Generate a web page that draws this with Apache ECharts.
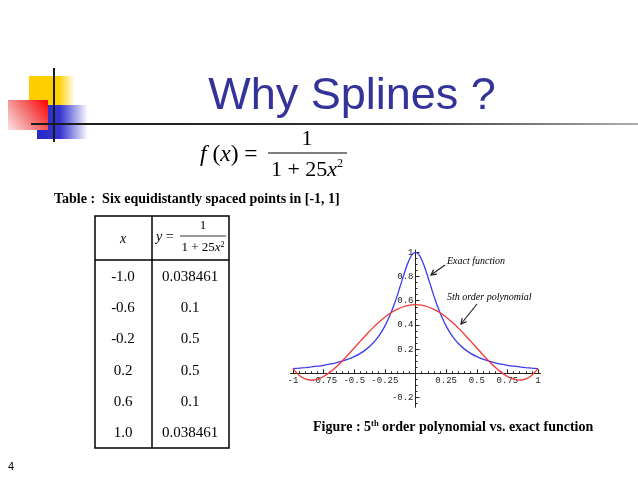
<!DOCTYPE html>
<html>
<head>
<meta charset="utf-8">
<script src="https://cdn.jsdelivr.net/npm/echarts@6/dist/echarts.min.js"></script>
<style>
html,body{margin:0;padding:0;background:#fff;}
#c{width:638px;height:478px;}
</style>
</head>
<body>
<div id="c"></div>
<script>
// ---- data ----
var xExact = [-1,-0.95,-0.9,-0.85,-0.8,-0.75,-0.7,-0.65,-0.6,-0.55,-0.5,-0.45,-0.4,-0.35,-0.3,-0.25,-0.2,-0.175,-0.15,-0.125,-0.1,-0.075,-0.05,-0.025,0,0.025,0.05,0.075,0.1,0.125,0.15,0.175,0.2,0.25,0.3,0.35,0.4,0.45,0.5,0.55,0.6,0.65,0.7,0.75,0.8,0.85,0.9,0.95,1];
var yExact = [0.0385,0.0424,0.0471,0.0525,0.0588,0.0664,0.0755,0.0865,0.1,0.117,0.138,0.165,0.2,0.246,0.308,0.39,0.5,0.566,0.64,0.719,0.8,0.877,0.941,0.985,1,0.985,0.941,0.877,0.8,0.719,0.64,0.566,0.5,0.39,0.308,0.246,0.2,0.165,0.138,0.117,0.1,0.0865,0.0755,0.0664,0.0588,0.0525,0.0471,0.0424,0.0385];
var xPoly = [-1,-0.95,-0.9,-0.85,-0.8,-0.75,-0.7,-0.65,-0.6,-0.55,-0.5,-0.45,-0.4,-0.35,-0.3,-0.25,-0.2,-0.15,-0.1,-0.05,0,0.05,0.1,0.15,0.2,0.25,0.3,0.35,0.4,0.45,0.5,0.55,0.6,0.65,0.7,0.75,0.8,0.85,0.9,0.95,1];
var yPoly = [0.0385,-0.0157,-0.046,-0.0558,-0.0481,-0.026,0.0078,0.0506,0.1,0.1537,0.2097,0.2661,0.3212,0.3733,0.4213,0.4638,0.5,0.529,0.5501,0.563,0.5673,0.563,0.5501,0.529,0.5,0.4638,0.4213,0.3733,0.3212,0.2661,0.2097,0.1537,0.1,0.0506,0.0078,-0.026,-0.0481,-0.0558,-0.046,-0.0157,0.0385];
var xTickLabels = [-1,-0.75,-0.5,-0.25,0.25,0.5,0.75,1];
var yTickLabels = [-0.2,0.2,0.4,0.6,0.8,1];
var xMinorTicks = [-1,-0.95,-0.9,-0.85,-0.8,-0.75,-0.7,-0.65,-0.6,-0.55,-0.5,-0.45,-0.4,-0.35,-0.3,-0.25,-0.2,-0.15,-0.1,-0.05,0.05,0.1,0.15,0.2,0.25,0.3,0.35,0.4,0.45,0.5,0.55,0.6,0.65,0.7,0.75,0.8,0.85,0.9,0.95,1];
var yMinorTicks = [-0.25,-0.2,-0.15,-0.1,-0.05,0.05,0.1,0.15,0.2,0.25,0.3,0.35,0.4,0.45,0.5,0.55,0.6,0.65,0.7,0.75,0.8,0.85,0.9,0.95,1];
var tableX = ['-1.0','-0.6','-0.2','0.2','0.6','1.0'];
var tableY = ['0.038461','0.1','0.5','0.5','0.1','0.038461'];
var titleText = 'Why Splines ?';
var tableCaption = 'Table :  Six equidistantly spaced points in [-1, 1]';
var pageNumber = '4';

function pairs(xs, ys){ return xs.map(function(x,i){ return [x, ys[i]]; }); }
function fmt(v){ return String(v); }

var serif = '"Liberation Serif", "Times New Roman", serif';
var sans = '"Liberation Sans", Arial, sans-serif';
var mono = '"Liberation Mono", "Courier New", monospace';

// plot geometry
var X_MIN = -1.02, X_MAX = 1.02, Y_MIN = -0.28, Y_MAX = 1.02;
var G = {left:290.5, top:249.9, width:250, height:157.3};
var xAxisOffset = -(0 - Y_MIN) / (Y_MAX - Y_MIN) * G.height;   // move x axis up to y = 0
var yAxisOffset = -(0 - X_MIN) / (X_MAX - X_MIN) * G.width;    // move y axis right to x = 0

function arrow(tail, tip, color){
  var dx = tail[0]-tip[0], dy = tail[1]-tip[1];
  var L = Math.sqrt(dx*dx+dy*dy); dx/=L; dy/=L;
  var a = 28*Math.PI/180, h = 6;
  var c = Math.cos(a), s = Math.sin(a);
  var p1 = [tip[0]+h*(dx*c - dy*s), tip[1]+h*(dx*s + dy*c)];
  var p2 = [tip[0]+h*(dx*c + dy*s), tip[1]+h*(-dx*s + dy*c)];
  return [
    {type:'line', z:50, shape:{x1:tail[0],y1:tail[1],x2:tip[0],y2:tip[1]}, style:{stroke:color,lineWidth:1.2}},
    {type:'polyline', z:50, shape:{points:[p1,tip,p2]}, style:{stroke:color,lineWidth:1.2,fill:null}}
  ];
}

var graphics = [];
// decorative squares
graphics.push({type:'rect', z:1, shape:{x:29,y:76,width:46,height:46}, style:{fill:{type:'linear',x:0,y:0,x2:1,y2:0,colorStops:[{offset:0,color:'#ffcc00'},{offset:0.65,color:'#ffd000'},{offset:1,color:'#ffffff'}]}}});
graphics.push({type:'rect', z:2, shape:{x:37,y:105,width:51,height:34}, style:{fill:{type:'linear',x:0,y:0,x2:1,y2:0,colorStops:[{offset:0,color:'#2828c8'},{offset:0.45,color:'#3535d0'},{offset:1,color:'#ffffff'}]}}});
graphics.push({type:'rect', z:3, shape:{x:8,y:100,width:40,height:30}, style:{fill:{type:'linear',x:0,y:1,x2:1,y2:0,colorStops:[{offset:0,color:'#fbe4e4'},{offset:0.55,color:'#f36a6a'},{offset:1,color:'#ff0000'}]}}});
graphics.push({type:'line', z:4, shape:{x1:54,y1:68,x2:54,y2:142}, style:{stroke:'#1a1a1a',lineWidth:2}});
graphics.push({type:'line', z:4, shape:{x1:31,y1:124,x2:638,y2:124}, style:{stroke:{type:'linear',x:0,y:0,x2:1,y2:0,colorStops:[{offset:0,color:'#1a1a1a'},{offset:0.6,color:'#333333'},{offset:1,color:'#b0b0b0'}]},lineWidth:2}});

// title
graphics.push({type:'text', x:352, y:97, style:{text:titleText, font:'45px ' + sans, fill:'#333399', textAlign:'center', textVerticalAlign:'middle'}});

// formula f(x) = 1/(1+25x^2)
graphics.push({type:'text', x:200, y:155, style:{text:'{i|f} ({i|x}) =', textAlign:'left', textVerticalAlign:'middle', font:'23.5px '+serif, fill:'#000', rich:{i:{fontStyle:'italic', fontSize:23.5, fontFamily:serif}}}});
graphics.push({type:'text', x:307, y:139, style:{text:'1', textAlign:'center', textVerticalAlign:'middle', font:'22px '+serif, fill:'#000'}});
graphics.push({type:'line', shape:{x1:268,y1:153,x2:347,y2:153}, style:{stroke:'#000',lineWidth:1}});
graphics.push({type:'text', x:307, y:170, style:{text:'1 + 25{i|x}{s|2}', textAlign:'center', textVerticalAlign:'middle', font:'22px '+serif, fill:'#000', rich:{i:{fontStyle:'italic',fontSize:22,fontFamily:serif,lineHeight:24}, s:{fontSize:12,fontFamily:serif,verticalAlign:'top',lineHeight:24}}}});

// table caption
graphics.push({type:'text', x:54, y:199, style:{text:tableCaption, textAlign:'left', textVerticalAlign:'middle', font:'bold 14px '+serif, fill:'#000'}});

// table
graphics.push({type:'rect', shape:{x:95,y:216,width:134,height:232}, style:{fill:null, stroke:'#000', lineWidth:1.5}});
graphics.push({type:'line', shape:{x1:152,y1:216,x2:152,y2:448}, style:{stroke:'#000',lineWidth:1.5}});
graphics.push({type:'line', shape:{x1:95,y1:260,x2:229,y2:260}, style:{stroke:'#000',lineWidth:1.5}});
graphics.push({type:'text', x:123, y:239, style:{text:'x', textAlign:'center', textVerticalAlign:'middle', font:'italic 14px '+serif, fill:'#000'}});
graphics.push({type:'text', x:156, y:237, style:{text:'{i|y} =', textAlign:'left', textVerticalAlign:'middle', font:'14px '+serif, fill:'#000', rich:{i:{fontStyle:'italic',fontSize:14,fontFamily:serif}}}});
graphics.push({type:'text', x:203, y:226, style:{text:'1', textAlign:'center', textVerticalAlign:'middle', font:'13px '+serif, fill:'#000'}});
graphics.push({type:'line', shape:{x1:180,y1:236,x2:226,y2:236}, style:{stroke:'#000',lineWidth:0.8}});
graphics.push({type:'text', x:203, y:248, style:{text:'1 + 25{i|x}{s|2}', textAlign:'center', textVerticalAlign:'middle', font:'13px '+serif, fill:'#000', rich:{i:{fontStyle:'italic',fontSize:13,fontFamily:serif,lineHeight:15}, s:{fontSize:8,fontFamily:serif,verticalAlign:'top',lineHeight:15}}}});
tableX.forEach(function(v,i){
  var yy = 277 + i*31.2;
  graphics.push({type:'text', x:123, y:yy, style:{text:v, textAlign:'center', textVerticalAlign:'middle', font:'15px '+serif, fill:'#000'}});
  graphics.push({type:'text', x:190, y:yy, style:{text:tableY[i], textAlign:'center', textVerticalAlign:'middle', font:'15px '+serif, fill:'#000'}});
});

// figure caption
graphics.push({type:'text', x:313, y:427, style:{text:'Figure : 5{s|th} order polynomial vs. exact function', textAlign:'left', textVerticalAlign:'middle', font:'bold 14px '+serif, fill:'#000', rich:{s:{fontSize:8.5,fontWeight:'bold',fontFamily:serif,verticalAlign:'top',lineHeight:16}}}});

// annotations
graphics.push({type:'text', z:50, x:447, y:261, style:{text:'Exact function', textAlign:'left', textVerticalAlign:'middle', font:'italic 10px '+serif, fill:'#000'}});
graphics.push({type:'text', z:50, x:447, y:297, style:{text:'5th order polynomial', textAlign:'left', textVerticalAlign:'middle', font:'italic 10px '+serif, fill:'#000'}});
graphics = graphics.concat(arrow([445,265],[431,275],'#222'));
graphics = graphics.concat(arrow([477,304],[461,324],'#222'));

// page number
graphics.push({type:'text', x:8, y:467, style:{text:pageNumber, textAlign:'left', textVerticalAlign:'middle', font:'11px '+sans, fill:'#000'}});

var chart = echarts.init(document.getElementById('c'), null, {renderer:'canvas', width:638, height:478});
var axisColor = '#222';
chart.setOption({
  animation:false,
  backgroundColor:'#ffffff',
  grid:{left:G.left, top:G.top, width:G.width, height:G.height, containLabel:false},
  xAxis:[{
    type:'value', min:X_MIN, max:X_MAX, position:'bottom', offset:xAxisOffset,
    axisLine:{show:true, onZero:false, lineStyle:{color:axisColor,width:1}},
    axisTick:{show:true, inside:true, length:4, customValues:xTickLabels, lineStyle:{color:axisColor}},
    axisLabel:{show:true, customValues:xTickLabels, formatter:fmt, margin:3, fontFamily:mono, fontSize:9, color:'#222'},
    splitLine:{show:false}
  },{
    type:'value', min:X_MIN, max:X_MAX, position:'bottom', offset:xAxisOffset,
    axisLine:{show:false, onZero:false},
    axisTick:{show:true, inside:true, length:2, customValues:xMinorTicks, lineStyle:{color:axisColor}},
    axisLabel:{show:false}, splitLine:{show:false}
  }],
  yAxis:[{
    type:'value', min:Y_MIN, max:Y_MAX, position:'left', offset:yAxisOffset,
    axisLine:{show:true, onZero:false, lineStyle:{color:axisColor,width:1}},
    axisTick:{show:true, inside:true, length:4, customValues:yTickLabels, lineStyle:{color:axisColor}},
    axisLabel:{show:true, customValues:yTickLabels, formatter:fmt, margin:2, fontFamily:mono, fontSize:9, color:'#222'},
    splitLine:{show:false}
  },{
    type:'value', min:Y_MIN, max:Y_MAX, position:'left', offset:yAxisOffset,
    axisLine:{show:false, onZero:false},
    axisTick:{show:true, inside:true, length:2, customValues:yMinorTicks, lineStyle:{color:axisColor}},
    axisLabel:{show:false}, splitLine:{show:false}
  }],
  series:[{
    name:'Exact function', type:'line', xAxisIndex:0, yAxisIndex:0,
    data:pairs(xExact,yExact), showSymbol:false, smooth:0.3,
    lineStyle:{color:'#3a3af0', width:1.3}, z:3
  },{
    name:'5th order polynomial', type:'line', xAxisIndex:0, yAxisIndex:0,
    data:pairs(xPoly,yPoly), showSymbol:false, smooth:0.3,
    lineStyle:{color:'#f03a3a', width:1.3}, z:4
  }],
  graphic:graphics
});
</script>
</body>
</html>
